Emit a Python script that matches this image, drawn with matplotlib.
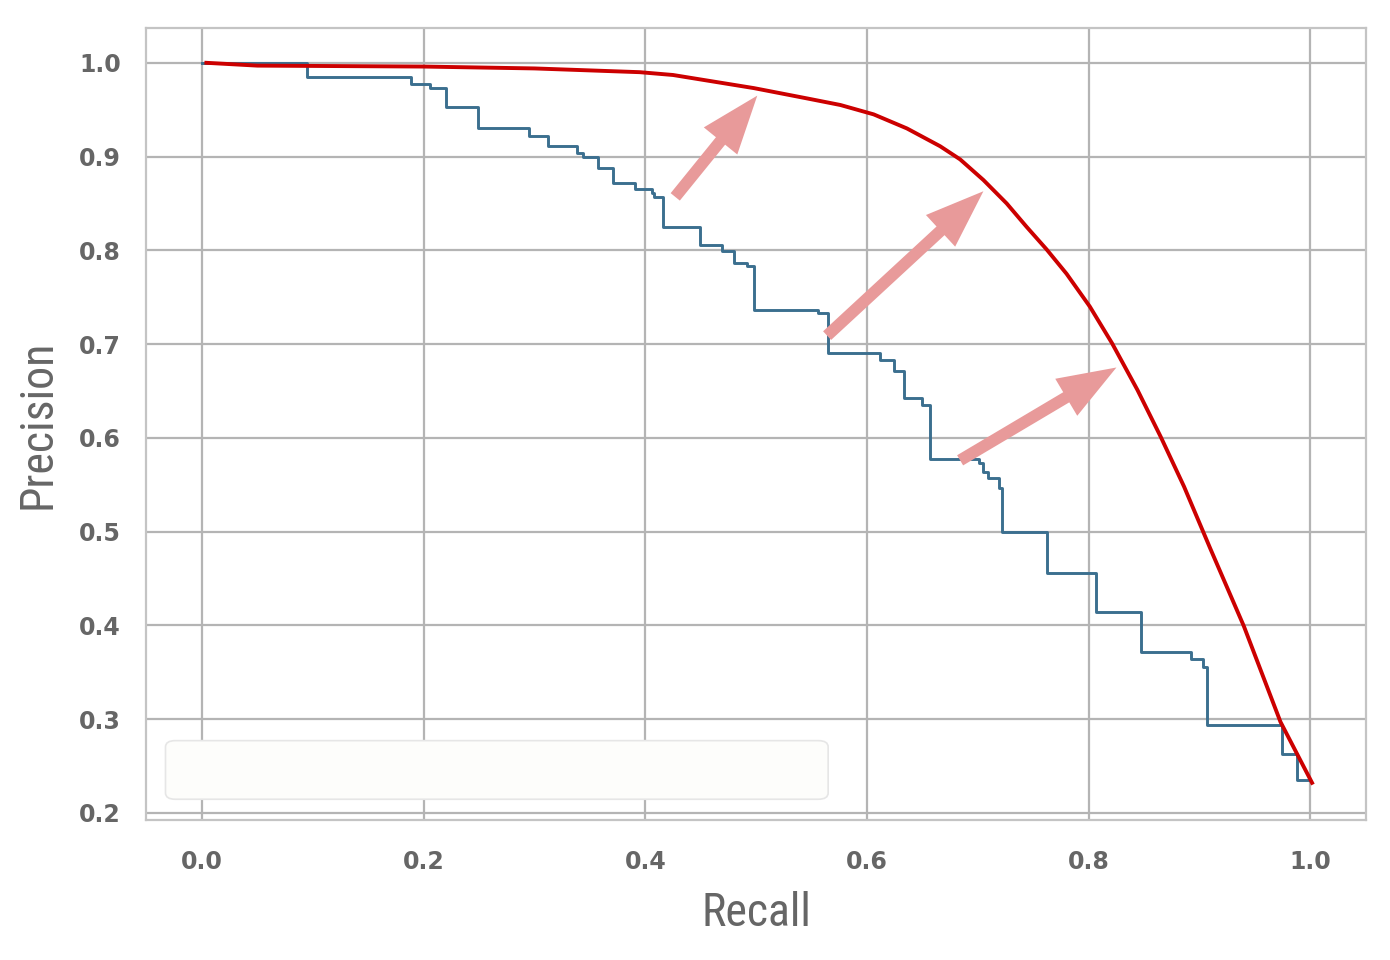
import numpy as np
import matplotlib
matplotlib.use("Agg")
from matplotlib import pyplot as plt
from matplotlib import font_manager
from matplotlib.patches import FancyBboxPatch


# step precision-recall curve (post steps)
recall = [0.0, 0.0945, 0.189, 0.206, 0.220, 0.249, 0.295, 0.312, 0.338, 0.344,
          0.357, 0.371, 0.391, 0.406, 0.408, 0.416, 0.449, 0.469, 0.480, 0.492,
          0.498, 0.556, 0.565, 0.612, 0.624, 0.633, 0.650, 0.657, 0.701, 0.705,
          0.709, 0.719, 0.722, 0.762, 0.807, 0.847, 0.892, 0.903, 0.907, 0.974,
          0.988, 1.0]
precision = [1.0, 0.985, 0.977, 0.973, 0.953, 0.930, 0.922, 0.911, 0.904, 0.900,
             0.888, 0.872, 0.865, 0.861, 0.857, 0.825, 0.806, 0.799, 0.786, 0.783,
             0.736, 0.733, 0.690, 0.683, 0.671, 0.642, 0.635, 0.577, 0.573, 0.564,
             0.557, 0.546, 0.500, 0.456, 0.414, 0.371, 0.364, 0.355, 0.294, 0.263,
             0.235, 0.235]

# idealised curve
ideal_recall = [0.004, 0.05, 0.2, 0.3, 0.395, 0.425, 0.498, 0.546, 0.576, 0.606,
                0.636, 0.666, 0.684, 0.705, 0.726, 0.744, 0.762, 0.780, 0.801,
                0.821, 0.844, 0.865, 0.886, 0.910, 0.940, 0.973, 1.0015]
ideal_precision = [1.0, 0.997, 0.996, 0.994, 0.990, 0.987, 0.973, 0.962, 0.955, 0.945,
                   0.930, 0.911, 0.897, 0.875, 0.850, 0.825, 0.801, 0.775, 0.740,
                   0.701, 0.651, 0.601, 0.548, 0.481, 0.399, 0.297, 0.232]

# arrows: tail and tip in (recall, precision)
arrow_tails = [(0.427, 0.857), (0.564, 0.709), (0.684, 0.576)]
arrow_tips = [(0.501, 0.965), (0.705, 0.863), (0.825, 0.675)]

xticks = [0.0, 0.2, 0.4, 0.6, 0.8, 1.0]
yticks = [0.2, 0.3, 0.4, 0.5, 0.6, 0.7, 0.8, 0.9, 1.0]

GRID = "#b4b4b4"
TEXT = "#666666"


def narrow_family():
    # pick a condensed face if one is installed
    names = {f.name for f in font_manager.fontManager.ttflist}
    for name in ["Roboto Condensed", "Liberation Sans Narrow", "Open Sans Condensed",
                 "Noto Sans Condensed", "DejaVu Sans Condensed"]:
        if name in names:
            return [name, "DejaVu Sans"]
    return ["DejaVu Sans"]


fig = plt.figure(figsize=(13.9, 9.6), dpi=100)
ax = fig.add_axes([0.105, 0.146, 0.878, 0.825])

ax.step(recall, precision, where="post", color="#3b6f8f", lw=2.1, zorder=3)
ax.plot(ideal_recall, ideal_precision, color="#cc0000", lw=2.8, zorder=4,
        solid_joinstyle="round")

for (x0, y0), (x1, y1) in zip(arrow_tails, arrow_tips):
    ax.annotate("", xy=(x1, y1), xytext=(x0, y0),
                arrowprops=dict(arrowstyle="simple,head_length=4.2,head_width=3.1,tail_width=0.85",
                                mutation_scale=10, color="#e89a9a", lw=0,
                                shrinkA=0, shrinkB=0),
                zorder=5)

# empty legend box
ax.add_patch(FancyBboxPatch((0.016, 0.026), 0.543, 0.074, transform=ax.transAxes,
                            boxstyle="round,pad=0,rounding_size=0.008",
                            facecolor="#fdfdfb", edgecolor="#e6e6e6", lw=1.2, zorder=2))

ax.set_xlim(-0.0505, 1.0505)
ax.set_ylim(0.1925, 1.0373)
ax.set_xticks(xticks)
ax.set_yticks(yticks)
ax.set_xticklabels([f"{t:.1f}" for t in xticks])
ax.set_yticklabels([f"{t:.1f}" for t in yticks])
ax.grid(True, color=GRID, lw=1.6, zorder=1)
ax.set_axisbelow(True)
for spine in ax.spines.values():
    spine.set_color("#c4c4c4")
    spine.set_linewidth(1.6)

ax.tick_params(length=0, labelsize=17, labelcolor=TEXT)
ax.tick_params(axis="y", pad=18)
ax.tick_params(axis="x", pad=22)
for lab in ax.get_xticklabels() + ax.get_yticklabels():
    lab.set_fontweight("bold")

family = narrow_family()
label_size = 33 if family[0] != "DejaVu Sans" else 28
label_font = dict(family=family, size=label_size, color=TEXT)
ax.set_xlabel("Recall", labelpad=12, **label_font)
ax.set_ylabel("Precision", labelpad=14, **label_font)

plt.savefig("out.png", dpi=100, facecolor="white")
